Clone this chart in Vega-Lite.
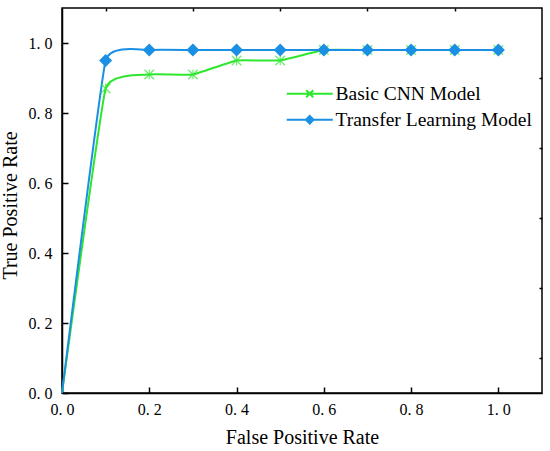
{
  "$schema": "https://vega.github.io/schema/vega-lite/v6.json",
  "autosize": "none",
  "width": 480,
  "height": 385,
  "padding": {"left": 62, "top": 8, "right": 8, "bottom": 58},
  "background": "white",
  "config": {
    "font": "Times New Roman, Liberation Serif, DejaVu Serif, serif",
    "view": {"stroke": "black", "strokeWidth": 1.5},
    "axis": {
      "grid": false,
      "labelFlush": false,
      "domainColor": "black",
      "domainWidth": 1.5,
      "tickColor": "black",
      "tickWidth": 1.5,
      "labelFont": "Times New Roman, Liberation Serif, DejaVu Serif, serif",
      "labelFontSize": 16,
      "labelColor": "black",
      "titleFont": "Times New Roman, Liberation Serif, DejaVu Serif, serif",
      "titleFontSize": 20,
      "titleFontWeight": "normal",
      "titleColor": "black"
    },
    "legend": {
      "labelFont": "Times New Roman, Liberation Serif, DejaVu Serif, serif",
      "labelFontSize": 19.5,
      "labelColor": "black",
      "labelLimit": 0
    }
  },
  "data": {
    "values": [
      {"fpr": 0.0, "tpr": 0.0, "model": "Basic CNN Model"},
      {"fpr": 0.1, "tpr": 0.87, "model": "Basic CNN Model"},
      {"fpr": 0.2, "tpr": 0.91, "model": "Basic CNN Model"},
      {"fpr": 0.3, "tpr": 0.91, "model": "Basic CNN Model"},
      {"fpr": 0.4, "tpr": 0.95, "model": "Basic CNN Model"},
      {"fpr": 0.5, "tpr": 0.95, "model": "Basic CNN Model"},
      {"fpr": 0.6, "tpr": 0.98, "model": "Basic CNN Model"},
      {"fpr": 0.7, "tpr": 0.98, "model": "Basic CNN Model"},
      {"fpr": 0.8, "tpr": 0.98, "model": "Basic CNN Model"},
      {"fpr": 0.9, "tpr": 0.98, "model": "Basic CNN Model"},
      {"fpr": 1.0, "tpr": 0.98, "model": "Basic CNN Model"},
      {"fpr": 0.0, "tpr": 0.0, "model": "Transfer Learning Model"},
      {"fpr": 0.1, "tpr": 0.95, "model": "Transfer Learning Model"},
      {"fpr": 0.2, "tpr": 0.98, "model": "Transfer Learning Model"},
      {"fpr": 0.3, "tpr": 0.98, "model": "Transfer Learning Model"},
      {"fpr": 0.4, "tpr": 0.98, "model": "Transfer Learning Model"},
      {"fpr": 0.5, "tpr": 0.98, "model": "Transfer Learning Model"},
      {"fpr": 0.6, "tpr": 0.98, "model": "Transfer Learning Model"},
      {"fpr": 0.7, "tpr": 0.98, "model": "Transfer Learning Model"},
      {"fpr": 0.8, "tpr": 0.98, "model": "Transfer Learning Model"},
      {"fpr": 0.9, "tpr": 0.98, "model": "Transfer Learning Model"},
      {"fpr": 1.0, "tpr": 0.98, "model": "Transfer Learning Model"}
    ]
  },
  "resolve": {"axis": {"x": "independent", "y": "independent"}},
  "layer": [
    {
      "mark": {"type": "line", "interpolate": "cardinal", "tension": 0.7, "strokeWidth": 2},
      "encoding": {
        "x": {
          "field": "fpr", "type": "quantitative",
          "scale": {"domain": [0, 1.1], "nice": false, "zero": false},
          "axis": {
            "title": "False Positive Rate",
            "values": [0, 0.2, 0.4, 0.6, 0.8, 1.0],
            "tickSize": -6,
            "labelPadding": 14,
            "titlePadding": 10,
            "labelExpr": "replace(format(datum.value, '.1f'), '.', '. ')"
          }
        },
        "y": {
          "field": "tpr", "type": "quantitative",
          "scale": {"domain": [0, 1.1], "nice": false, "zero": false},
          "axis": {
            "title": "True Positive Rate",
            "values": [0, 0.2, 0.4, 0.6, 0.8, 1.0],
            "tickSize": -6,
            "labelPadding": 16,
            "titlePadding": 8,
            "titleY": 197,
            "labelExpr": "replace(format(datum.value, '.1f'), '.', '. ')"
          }
        },
        "color": {
          "field": "model", "type": "nominal",
          "scale": {
            "domain": ["Basic CNN Model", "Transfer Learning Model"],
            "range": ["#2ee62e", "#1a8fe3"]
          },
          "legend": {
            "title": null,
            "orient": "none",
            "legendX": 238,
            "legendY": 76,
            "padding": 0,
            "symbolSize": 100,
            "labelOffset": 16,
            "rowPadding": 5,
            "encode": {
              "symbols": {
                "update": {
                  "shape": {"signal": "datum.value === 'Basic CNN Model' ? 'M-4.6,0L4.6,0M-0.7,-0.7L0.7,0.7M0.7,-0.7L-0.7,0.7' : 'M-4.6,0L4.6,0M0,-0.75L0.75,0L0,0.75L-0.75,0Z'"},
                  "fill": {"signal": "datum.value === 'Basic CNN Model' ? 'transparent' : '#1a8fe3'"},
                  "stroke": {"signal": "datum.value === 'Basic CNN Model' ? '#2ee62e' : '#1a8fe3'"},
                  "strokeWidth": {"value": 2}
                }
              }
            }
          }
        }
      }
    },
    {
      "transform": [{"filter": "datum.model === 'Basic CNN Model' && datum.fpr > 0"}],
      "mark": {"type": "point", "shape": "M-1,-1L1,1M1,-1L-1,1M0,-1L0,1", "filled": false, "size": 90, "strokeWidth": 1.2, "color": "#2ee62e"},
      "encoding": {
        "x": {"field": "fpr", "type": "quantitative", "axis": null},
        "y": {"field": "tpr", "type": "quantitative", "axis": null}
      }
    },
    {
      "transform": [{"filter": "datum.model === 'Transfer Learning Model' && datum.fpr > 0"}],
      "mark": {"type": "point", "shape": "diamond", "filled": true, "size": 170, "opacity": 1, "color": "#1a8fe3"},
      "encoding": {
        "x": {"field": "fpr", "type": "quantitative", "axis": null},
        "y": {"field": "tpr", "type": "quantitative", "axis": null}
      }
    },
    {
      "data": {"values": [{"v": 0.1}, {"v": 0.3}, {"v": 0.5}, {"v": 0.7}, {"v": 0.9}]},
      "mark": {"type": "tick", "opacity": 0},
      "encoding": {
        "x": {
          "field": "v", "type": "quantitative",
          "axis": {
            "title": null,
            "values": [0.1, 0.3, 0.5, 0.7, 0.9],
            "tickSize": -3,
            "labels": false,
            "domain": false
          }
        },
        "y": {
          "field": "v", "type": "quantitative",
          "axis": {
            "title": null,
            "values": [0.1, 0.3, 0.5, 0.7, 0.9],
            "tickSize": -3,
            "labels": false,
            "domain": false
          }
        }
      }
    }
  ]
}
